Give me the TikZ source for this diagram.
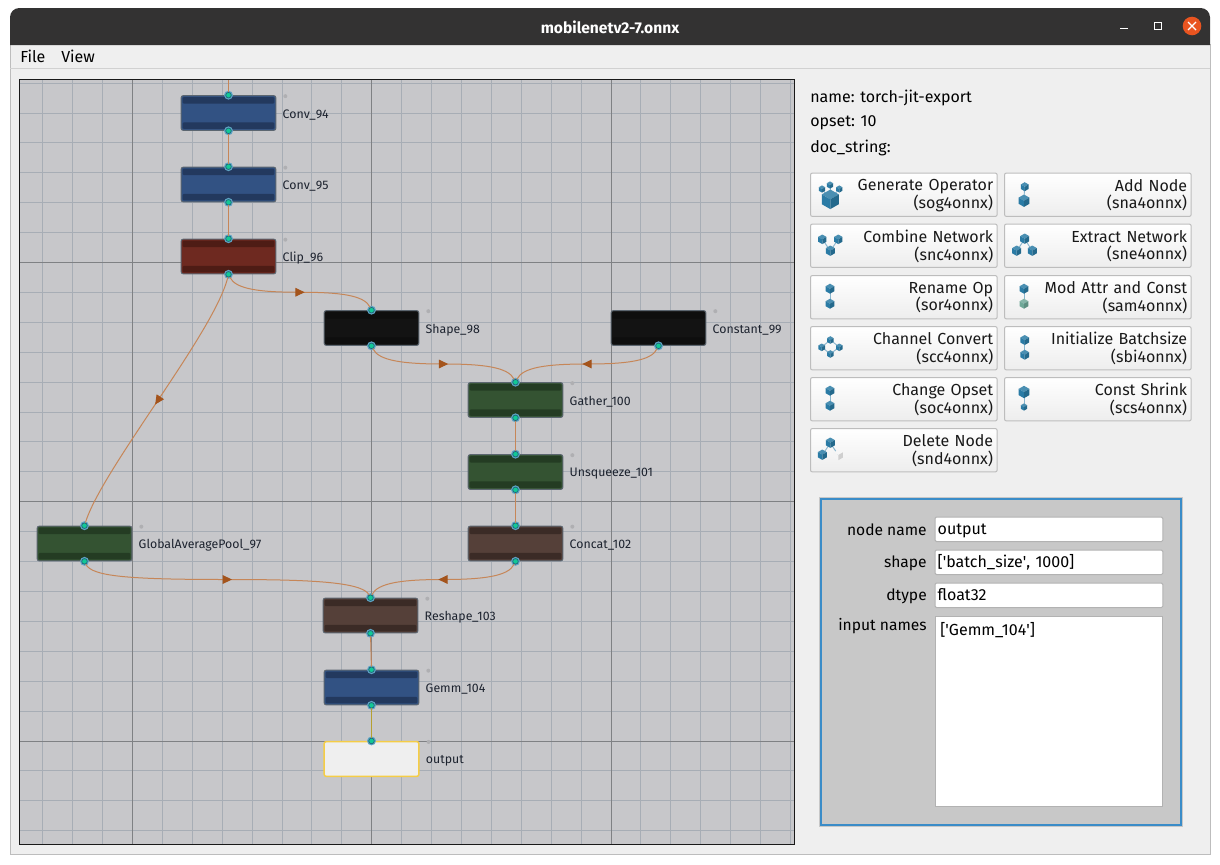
\documentclass[tikz,border=0pt]{standalone}
\usepackage{fontspec}
\setmainfont{Fira Sans}
\usetikzlibrary{positioning,calc,arrows.meta,decorations.markings}

\definecolor{titlebar}{HTML}{333232}
\definecolor{winbody}{HTML}{EFEFEF}
\definecolor{winedge}{HTML}{BDBDBD}
\definecolor{canvasbg}{HTML}{C7C7CA}
\definecolor{gridminor}{HTML}{A7ADB5}
\definecolor{gridmajor}{HTML}{7F8184}
\definecolor{wirecol}{HTML}{C68658}
\definecolor{wirelast}{HTML}{B5A030}
\definecolor{tipcol}{HTML}{A4541C}
\definecolor{portfill}{HTML}{12C896}
\definecolor{portdark}{HTML}{1F6478}
\definecolor{portlight}{HTML}{5FA5C5}
\definecolor{boxedge}{HTML}{5C6670}
\definecolor{cubecol}{HTML}{2A7BA5}
\definecolor{cubemint}{HTML}{6FA898}
\definecolor{cubepale}{HTML}{F4F4F4}
\definecolor{panelblue}{HTML}{3A8CC8}
\definecolor{panelgrey}{HTML}{C8C8C8}
\definecolor{closeorange}{HTML}{E95420}
\definecolor{labelink}{HTML}{1C222E}
\definecolor{bluefill}{HTML}{325283}
\definecolor{bluebar}{HTML}{23395E}
\definecolor{redfill}{HTML}{6E2920}
\definecolor{redbar}{HTML}{4E1C15}
\definecolor{blackfill}{HTML}{131313}
\definecolor{blackbar}{HTML}{0E0E0E}
\definecolor{greenfill}{HTML}{345332}
\definecolor{greenbar}{HTML}{243C23}
\definecolor{brownfill}{HTML}{554039}
\definecolor{brownbar}{HTML}{3B2B26}
\definecolor{outborder}{HTML}{F5CD46}

\tikzset{
  opbox/.style 2 args={rectangle,rounded corners=1.5pt,minimum width=71pt,minimum height=26pt,inner sep=0pt,
    draw=boxedge,line width=.75pt,fill=#1,
    path picture={
      \fill[#2,rounded corners=.8pt] ([shift={(1.5,-1.5)}]path picture bounding box.north west) rectangle ([shift={(-1.5,-8)}]path picture bounding box.north east);
      \fill[#2,rounded corners=.8pt] ([shift={(1.5,8)}]path picture bounding box.south west) rectangle ([shift={(-1.5,1.5)}]path picture bounding box.south east);
    }},
  opblue/.style={opbox={bluefill}{bluebar}},
  opred/.style={opbox={redfill}{redbar}},
  opblack/.style={opbox={blackfill}{blackbar}},
  opgreen/.style={opbox={greenfill}{greenbar}},
  opbrown/.style={opbox={brownfill}{brownbar}},
  opout/.style={rectangle,rounded corners=1.5pt,minimum width=71pt,minimum height=26pt,inner sep=0pt,
    draw=outborder,line width=1.1pt,fill=winbody},
  portdot/.style={circle,minimum size=4.2pt,inner sep=0pt,fill=portfill,draw=portdark,line width=.5pt,
    preaction={draw=portlight,line width=2.3pt}},
  markdot/.style={circle,minimum size=3pt,inner sep=0pt,fill=black!12!canvasbg},
  oplabel/.style={inner sep=0pt,font=\fontsize{9.25}{11}\selectfont,text=labelink},
  wire/.style={wirecol,line width=.75pt},
  midarrow/.style={postaction={decorate,decoration={markings,
    mark=at position .5 with {\arrow[xshift=3.5pt]{Triangle[length=7pt,width=6.5pt,color=tipcol]}}}}},
  opsbtn/.style={rectangle,anchor=north west,rounded corners=1.5pt,draw=winedge,line width=.75pt,
    top color=white,bottom color=black!7,minimum height=32.6pt,text width=134pt,inner xsep=3pt,inner ysep=0pt,
    align=right,font=\fontsize{12}{13.3}\selectfont,text=black!90,text depth=14.5pt},
  field/.style={rectangle,anchor=north west,rounded corners=1pt,draw=black!30,line width=.75pt,fill=white,
    minimum height=18.4pt,text width=166.8pt,inner xsep=2pt,inner ysep=0pt,align=left,
    text height=9pt,text depth=1pt,font=\fontsize{12}{14}\selectfont},
  formlabel/.style={anchor=east,inner sep=0pt,font=\fontsize{11.7}{14}\selectfont},
  plaintext/.style={anchor=west,inner sep=0pt,font=\fontsize{12}{14}\selectfont},
}

% box with its side label and small dot
\newcommand{\opbody}[5]{
  \node[#4] (#1) at (#2,#3) {};
  \node[oplabel,right=4.6pt of #1,yshift=-1.3pt] (#1label) {#5};
  \node[markdot] (#1mark) at ([shift={(9,1)}]#1.north east) {};
}
\newcommand{\inport}[1]{\node[portdot] (#1in) at (#1.north) {};}
\newcommand{\outport}[1]{\node[portdot] (#1out) at (#1.south) {};}
% long flat curve with the arrow half way
\newcommand{\flatwire}[3]{
  \draw[wire,midarrow] (#2) .. controls +(#1*7,15) and +(#1*-40,0) .. ($(#2)!.5!(#3)$)
    .. controls +(#1*40,0) and +(#1*-7,-15) .. (#3);
}

\begin{document}
\begin{tikzpicture}[x=0.75pt,y=0.75pt,yscale=-1,xscale=1]
\useasboundingbox (0,0) rectangle (1220,864);

%window
\fill[white] (0,0) rectangle (1220,864);
\filldraw[fill=winbody,draw=winedge,line width=.75pt] (10,44) rectangle (1210,854);
\fill[titlebar] (10,45) [rounded corners=7] -- (10,8) -- (1210,8) [sharp corners] -- (1210,45) -- cycle;
\draw[winedge!70,line width=.75pt] (10,68.5) -- (1210,68.5);
\node[inner sep=0pt,text=white,font=\bfseries\fontsize{11.7}{14}\selectfont] (wintitle) at (610,27) {mobilenetv2-7.onnx};
\node[plaintext] (menufile) at (20,56) {File};
\node[plaintext] (menuview) at (61,56) {View};

%window buttons
\draw[white,line width=.9pt] (1120,28.5) -- (1128,28.5);
\draw[white,line width=.9pt] (1154.5,22.5) rectangle (1161.5,29.5);
\fill[closeorange] (1192,26) circle (9.3);
\draw[white,line width=1pt] (1188,22) -- (1196,30) (1196,22) -- (1188,30);

%graph canvas
\fill[canvasbg] (19,79.5) rectangle (795,845);
\foreach \gx in {42.5,72.5,102.5,162.5,192.5,222.5,252.5,282.5,311.5,341.5,401.5,431.5,461.5,491.5,521.5,551.5,581.5,640.5,670.5,700.5,730.5,760.5,790.5}
  \draw[gridminor,line width=.75pt] (\gx,79.5) -- (\gx,845);
\foreach \gy in {83.5,113.5,142.5,172.5,202.5,232.5,292.5,322.5,352.5,382.5,412.5,441.5,471.5,531.5,561.5,591.5,621.5,651.5,681.5,711.5,770.5,800.5,830.5}
  \draw[gridminor,line width=.75pt] (19,\gy) -- (795,\gy);
\foreach \gx in {132.5,371.5,611.5}
  \draw[gridmajor,line width=.75pt] (\gx,79.5) -- (\gx,845);
\foreach \gy in {262.5,501.5,741.5}
  \draw[gridmajor,line width=.75pt] (19,\gy) -- (795,\gy);

%graph nodes
\opbody{conv94}{228.5}{113}{opblue}{Conv\_94} \inport{conv94} \outport{conv94}
\opbody{conv95}{228.5}{184.5}{opblue}{Conv\_95} \inport{conv95} \outport{conv95}
\opbody{clip96}{228.5}{256.5}{opred}{Clip\_96} \inport{clip96} \outport{clip96}
\opbody{shape98}{371.5}{328}{opblack}{Shape\_98} \inport{shape98} \outport{shape98}
\opbody{constant99}{658.5}{328}{opblack}{Constant\_99} \outport{constant99}
\opbody{gather100}{515.5}{400}{opgreen}{Gather\_100} \inport{gather100} \outport{gather100}
\opbody{unsqueeze101}{515.5}{472}{opgreen}{Unsqueeze\_101} \inport{unsqueeze101} \outport{unsqueeze101}
\opbody{concat102}{515.5}{543.5}{opbrown}{Concat\_102} \inport{concat102} \outport{concat102}
\opbody{pool97}{84.5}{543.5}{opgreen}{GlobalAveragePool\_97} \inport{pool97} \outport{pool97}
\opbody{reshape103}{370.5}{615.5}{opbrown}{Reshape\_103} \inport{reshape103} \outport{reshape103}
\opbody{gemm104}{371.5}{687.5}{opblue}{Gemm\_104} \inport{gemm104} \outport{gemm104}
\opbody{output}{371.5}{759}{opout}{output} \inport{output}

%wires
\coordinate (topedge) at (228.5,79.5);
\draw[wire] (topedge) -- (conv94in);
\draw[wire] (conv94out) -- (conv95in);
\draw[wire] (conv95out) -- (clip96in);
\draw[wire] (gather100out) -- (unsqueeze101in);
\draw[wire] (unsqueeze101out) -- (concat102in);
\draw[wire] (reshape103out) -- (gemm104in);
\draw[wire,wirelast] (gemm104out) -- (outputin);
\flatwire{1}{clip96out}{shape98in}
\flatwire{1}{shape98out}{gather100in}
\flatwire{-1}{constant99out}{gather100in}
\flatwire{-1}{concat102out}{reshape103in}
\draw[wire,midarrow] (clip96out) .. controls +(-14,58) and +(17,-56) .. (pool97in);
\draw[wire,midarrow] (pool97out) .. controls +(7,15) and +(-100,0) .. ($(pool97out)!.5!(reshape103in)$)
  .. controls +(80,0) and +(-8,-16) .. (reshape103in);

%canvas frame
\draw[black!90,line width=.75pt] (19.5,79.5) rectangle (794.5,844.5);

%model info
\node[plaintext] (infoname) at (810,98) {name: torch-jit-export};
\node[plaintext] (infoopset) at (810,123) {opset: 10};
\node[plaintext] (infodoc) at (810,148) {doc\_string:};

%tool buttons
\node[opsbtn] (btnsog) at (810,172.5) {Generate Operator\\(sog4onnx)};
\node[opsbtn] (btnsna) at (1004,172.5) {Add Node\\(sna4onnx)};
\node[opsbtn] (btnsnc) at (810,223.5) {Combine Network\\(snc4onnx)};
\node[opsbtn] (btnsne) at (1004,223.5) {Extract Network\\(sne4onnx)};
\node[opsbtn] (btnsor) at (810,275) {Rename Op\\(sor4onnx)};
\node[opsbtn] (btnsam) at (1004,275) {Mod Attr and Const\\(sam4onnx)};
\node[opsbtn] (btnscc) at (810,326) {Channel Convert\\(scc4onnx)};
\node[opsbtn] (btnsbi) at (1004,326) {Initialize Batchsize\\(sbi4onnx)};
\node[opsbtn] (btnsoc) at (810,377) {Change Opset\\(soc4onnx)};
\node[opsbtn] (btnscs) at (1004,377) {Const Shrink\\(scs4onnx)};
\node[opsbtn] (btnsnd) at (810,428) {Delete Node\\(snd4onnx)};

%button icons
\foreach \ax/\ay/\bx/\by in {822/189/830/199,830/185/830/199,839.3/189/830/199,1024.5/187/1024/201,822.3/239/830.3/251,838.3/239/830.3/251,1024.7/239/1016.7/251,1024.7/239/1032.3/251,830/289/830/304,1024/289/1024/304,830.3/340/821.7/347,830.3/340/839.3/347,830.3/354/821.7/347,830.3/354/839.3/347,1024.7/340/1024.7/355,830/391/830/406,1024/392/1024/407,830.3/443/822.3/455,830.3/443/838.3/455}
  \draw[cubecol!55,line width=.7pt] (\ax,\ay) -- (\bx,\by);
\foreach \cubex/\cubey/\cubesize/\cubetint in {830.3/199.3/9.8/cubecol,822/189/3.6/cubecol,830/185/3.6/cubecol,839.3/189/3.6/cubecol,
  1024.7/186.7/4.5/cubecol,1024/200.7/6.2/cubecol,
  822.3/239.3/4.8/cubecol,838.3/239.3/4.8/cubecol,830.3/250.7/5.2/cubecol,
  1024.7/238.7/5.2/cubecol,1016.7/250.7/5.2/cubecol,1032.3/250.7/5.2/cubecol,
  830/288.7/5/cubecol,830/303.7/5/cubecol,1024/288.7/5/cubecol,1024/303.7/5/cubemint,
  830.3/340/3.8/cubecol,821.7/347.3/3.8/cubecol,839.3/347.3/3.8/cubecol,830.3/354/3.8/cubecol,
  1024.7/340/5/cubecol,1024.7/354.7/5/cubecol,
  830/390.7/5/cubecol,830/405.7/5/cubecol,1024/392/6.2/cubecol,1024/407/3.6/cubecol,
  830.3/442.7/5.2/cubecol,822.3/454.7/5.2/cubecol,838.3/455/5.2/cubepale}
{
  \fill[\cubetint!85!white] (\cubex,\cubey-\cubesize) -- (\cubex+.87*\cubesize,\cubey-.5*\cubesize) -- (\cubex,\cubey) -- (\cubex-.87*\cubesize,\cubey-.5*\cubesize) -- cycle;
  \fill[\cubetint] (\cubex-.87*\cubesize,\cubey-.5*\cubesize) -- (\cubex,\cubey) -- (\cubex,\cubey+\cubesize) -- (\cubex-.87*\cubesize,\cubey+.5*\cubesize) -- cycle;
  \fill[\cubetint!85!black] (\cubex+.87*\cubesize,\cubey-.5*\cubesize) -- (\cubex,\cubey) -- (\cubex,\cubey+\cubesize) -- (\cubex+.87*\cubesize,\cubey+.5*\cubesize) -- cycle;
}

%output form
\draw[black!22,line width=.75pt] (819.5,497.5) rectangle (1182.5,826.5);
\draw[panelblue,fill=panelgrey,line width=1.5pt] (821,499) rectangle (1181,824.5);
\node[formlabel] (labelname) at (927,530) {node name};
\node[formlabel] (labelshape) at (927,563) {shape};
\node[formlabel] (labeldtype) at (927,596) {dtype};
\node[formlabel] (labelinputs) at (927,626) {input names};
\node[field] (fieldname) at (934.5,516.5) {output};
\node[field] (fieldshape) at (934.5,549.5) {[\textquotesingle batch\_size\textquotesingle, 1000]};
\node[field] (fielddtype) at (934.5,582.5) {float32};
\node[field,minimum height=142.5pt,rounded corners=0pt] (fieldinputs) at (934.5,615.5) {};
\node[plaintext] (textinputs) at (940,630) {[\textquotesingle Gemm\_104\textquotesingle]};

\end{tikzpicture}
\end{document}
